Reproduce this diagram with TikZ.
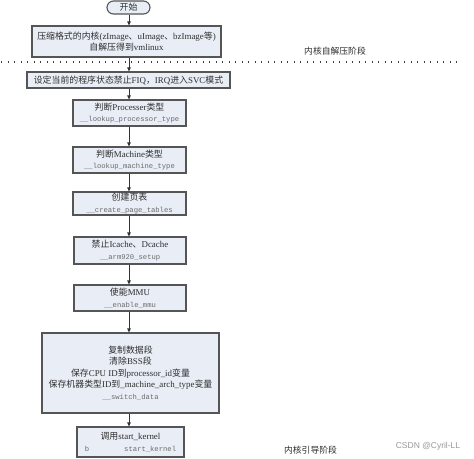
\documentclass[tikz,border=0pt]{standalone}
\usepackage{fontspec}
\setmainfont{Liberation Serif}
\newfontfamily\zhf{Noto Sans CJK SC}
\newfontfamily\monof{Liberation Mono}
\newfontfamily\wmf{Liberation Sans}
\newcommand\zh[1]{{\zhf #1}}
\newcommand\cd[1]{{\monof\fontsize{7.2}{11.5}\selectfont\color{codec}#1}}
\usetikzlibrary{arrows.meta}
\definecolor{boxfill}{HTML}{E9EEF6}
\definecolor{boxline}{HTML}{555555}
\definecolor{txt}{HTML}{2E2E2E}
\definecolor{codec}{HTML}{6A6A6A}
\begin{document}
\begin{tikzpicture}[x=1pt,y=-1pt,
  box/.style={draw=boxline, fill=boxfill, line width=1.1pt, inner sep=0pt, align=center,
    font=\fontsize{8.9}{11.5}\selectfont, text=txt},
  arr/.style={-{Triangle[length=4pt,width=3.5pt]}, line width=0.8pt, draw=black!80},
  sep/.style={line width=1.4pt, dash pattern=on 1.3pt off 5.2pt, draw=black!75},
  lbl/.style={font=\zhf\fontsize{8.8}{10}\selectfont, text=txt, inner sep=0pt}
]
\useasboundingbox (0,0) rectangle (474,458);
\fill[white] (0,0) rectangle (474,458);

\node[box, rounded corners=6.5pt, minimum width=43pt, minimum height=13pt] (start) at (128.5,7.5) {\zh{开始}};
\node[box, minimum width=189pt, minimum height=31pt] (b1) at (126.5,41.5)
  {\zh{压缩格式的内核}(zImage\zh{、}uImage\zh{、}bzImage\zh{等})\\\zh{自解压得到}vmlinux};
\node[box, minimum width=203pt, minimum height=16pt] (b2) at (128.5,80)
  {\zh{设定当前的程序状态禁止}FIQ\zh{，}IRQ\zh{进入}SVC\zh{模式}};
\node[box, minimum width=113pt, minimum height=26pt] (b3) at (129.5,113)
  {\zh{判断}Processer\zh{类型}\\\cd{\_\_lookup\_processor\_type}};
\node[box, minimum width=113pt, minimum height=26pt] (b4) at (129.5,160)
  {\zh{判断}Machine\zh{类型}\\\cd{\_\_lookup\_machine\_type}};
\node[box, minimum width=113pt, minimum height=23pt] (b5) at (129.5,203.5)
  {\zh{创建页表}\\\cd{\_\_create\_page\_tables}};
\node[box, minimum width=112pt, minimum height=27pt] (b6) at (130,250.5)
  {\zh{禁止}Icache\zh{、}Dcache\\\cd{\_\_arm920\_setup}};
\node[box, minimum width=112pt, minimum height=26pt] (b7) at (130,298)
  {\zh{使能}MMU\\\cd{\_\_enable\_mmu}};
\node[box, minimum width=177pt, minimum height=80pt] (b8) at (130.5,373)
  {\zh{复制数据段}\\\zh{清除}BSS\zh{段}\\\zh{保存}CPU ID\zh{到}processor\_id\zh{变量}\\
   \zh{保存机器类型}ID\zh{到}\_machine\_arch\_type\zh{变量}\\\cd{\_\_switch\_data}};
\node[box, minimum width=107pt, minimum height=30pt] (b9) at (130.5,442)
  {\zh{调用}start\_kernel\\\cd{b\hspace{35pt}start\_kernel}};

\coordinate (col) at (129,0);
\coordinate (sl) at (1,62);
\coordinate (sr) at (460,62);
\draw[sep] (sl) -- (sr);

\draw[arr] (start.south -| col) -- (b1.north -| col);
\draw[arr] (b1.south -| col) -- (b2.north -| col);
\draw[arr] (b2.south -| col) -- (b3.north -| col);
\draw[arr] (b3.south -| col) -- (b4.north -| col);
\draw[arr] (b4.south -| col) -- (b5.north -| col);
\draw[arr] (b5.south -| col) -- (b6.north -| col);
\draw[arr] (b6.south -| col) -- (b7.north -| col);
\draw[arr] (b7.south -| col) -- (b8.north -| col);
\draw[arr] (b8.south -| col) -- (b9.north -| col);

\node[lbl] (l1) at (335,51) {内核自解压阶段};
\node[lbl] (l2) at (310.5,450) {内核引导阶段};
\node[font=\wmf\fontsize{8.5}{10}\selectfont, text=black!40, inner sep=0pt] (wm) at (428,446) {CSDN @Cyril-LL};
\end{tikzpicture}
\end{document}
